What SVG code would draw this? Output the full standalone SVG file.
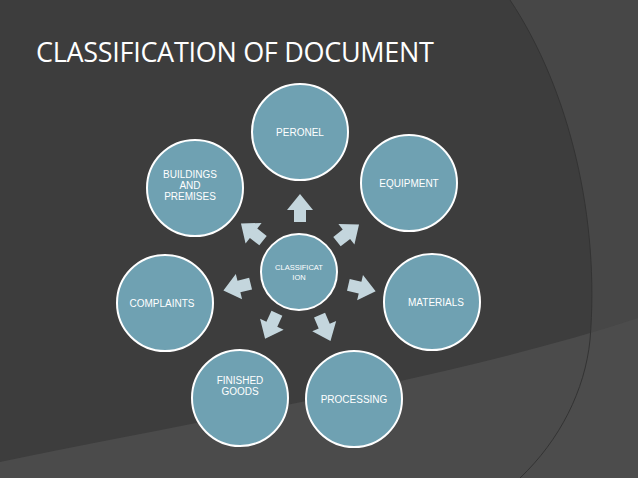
<svg xmlns="http://www.w3.org/2000/svg" width="638" height="478" viewBox="0 0 638 478">
<style>
.n{fill:#6fa1b2;stroke:#ffffff;stroke-width:2}
.t{font-family:"Liberation Sans",Arial,sans-serif;font-size:10px;fill:#ffffff;text-anchor:middle}
.a{fill:#c4d6dd}
</style>
<defs><polygon id="arr" points="-6,14 6,14 6,2 13,2 0,-14 -13,2 -6,2"/></defs>
<rect width="638" height="478" fill="#3d3d3d"/>
<path d="M510,0 C570,90 600,220 590,340 C585,390 560,440 520,478 L638,478 L638,0 Z" fill="#474747"/>
<path d="M0,462 C200,420 450,380 638,318 L638,478 L0,478 Z" fill="#4d4d4d" opacity="0.9"/>
<path d="M510,0 C570,90 600,220 590,340 C585,390 560,440 520,478" fill="none" stroke="#333" stroke-width="1"/>
<text x="36" y="62" font-family="'Open Sans','Liberation Sans',sans-serif" font-size="27" fill="#ffffff" letter-spacing="-0.3">CLASSIFICATION OF DOCUMENT</text>
<g id="connectors" class="a">
<use href="#arr" transform="translate(300,208)"/>
<use href="#arr" transform="translate(348,233) rotate(52)"/>
<use href="#arr" transform="translate(362,288) rotate(103)"/>
<use href="#arr" transform="translate(325,328) rotate(157)"/>
<use href="#arr" transform="translate(271,326) rotate(205)"/>
<use href="#arr" transform="translate(237,287) rotate(256)"/>
<use href="#arr" transform="translate(252,232) rotate(308)"/>
</g>
<g id="center"><circle class="n" cx="299" cy="272" r="38"/><text class="t" style="font-size:7.5px" x="299" y="270">CLASSIFICAT</text><text class="t" style="font-size:7.5px" x="299" y="280">ION</text></g>
<g id="peronel"><circle class="n" cx="300" cy="132" r="48"/><text class="t" x="300" y="136">PERONEL</text></g>
<g id="equipment"><circle class="n" cx="409" cy="183" r="48"/><text class="t" x="409" y="187">EQUIPMENT</text></g>
<g id="materials"><circle class="n" cx="432" cy="302" r="48"/><text class="t" x="436" y="306">MATERIALS</text></g>
<g id="processing"><circle class="n" cx="354" cy="399" r="48"/><text class="t" x="354" y="403">PROCESSING</text></g>
<g id="finished"><circle class="n" cx="240" cy="398" r="48"/><text class="t" x="240" y="384">FINISHED</text><text class="t" x="240" y="395">GOODS</text></g>
<g id="complaints"><circle class="n" cx="165" cy="303" r="48"/><text class="t" x="162" y="307">COMPLAINTS</text></g>
<g id="buildings"><circle class="n" cx="195" cy="188" r="48"/><text class="t" x="190" y="178">BUILDINGS</text><text class="t" x="190" y="189">AND</text><text class="t" x="190" y="200">PREMISES</text></g>
</svg>
